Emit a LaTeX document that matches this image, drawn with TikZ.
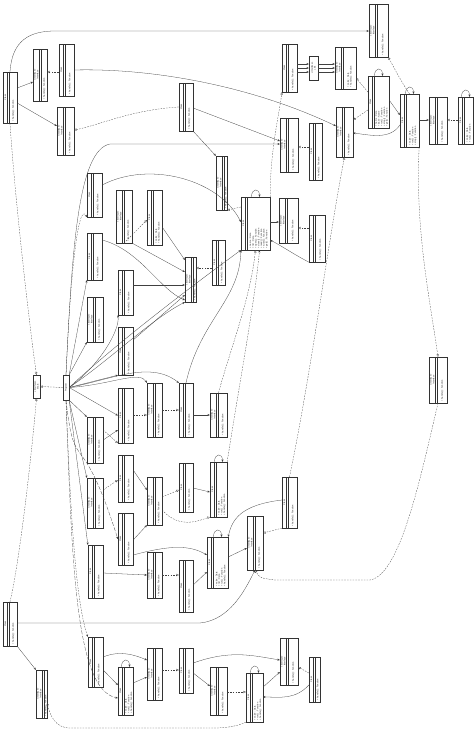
\documentclass[tikz,border=0pt]{standalone}
\usepackage{fontspec}
\setmainfont{Liberation Sans}
\usetikzlibrary{fit,arrows.meta}
\tikzset{
  umlframe/.style={draw=black!80, line width=0.3pt, inner sep=0pt},
  umltxt/.style={font=\fontsize{2.3}{2.7}\selectfont, inner sep=0pt, rotate=90, text=black!85},
  conn/.style={line width=0.28pt, draw=black!75},
  dep/.style={conn, -{Stealth[length=2.4pt,width=2pt]}},
  real/.style={conn, dash pattern=on 1.6pt off 1.2pt, -{Triangle[open,length=2.4pt,width=2.4pt]}},
  ddep/.style={conn, dash pattern=on 1.6pt off 1.2pt, -{Stealth[length=2.4pt,width=2pt]}},
  ldash/.style={conn, dash pattern=on 4pt off 1.5pt, -{Stealth[length=2.4pt,width=2pt]}},
}
\newcommand\umlbox[8]{%
  \coordinate (#1-a) at (#2,-#3);
  \coordinate (#1-b) at (#4,-#5);
  \node[umlframe, fit=(#1-a)(#1-b)] (#1) {};
  \draw[line width=0.25pt, black!80] ({#2+#6},-#3) -- ({#2+#6},-#5) ({#2+#6+2},-#3) -- ({#2+#6+2},-#5);
  \node[umltxt, align=center] (#1-t) at ({#2+#6/2},{-(#3+#5)/2}) {#7};
  \node[umltxt, align=left, anchor=west] (#1-m) at ({(#2+#6+2+#4)/2},{-#5+1.5}) {#8};
}
\newcommand\umlcls[6]{\umlbox{#1}{#2}{#3}{#4}{#5}{4.5}{Class}{#6}}
\newcommand\umlint[6]{\umlbox{#1}{#2}{#3}{#4}{#5}{6.5}{«interface»\\Interface}{#6}}
\newcommand\umlloop[1]{\draw[dep] ([xshift=-4pt]#1.north) .. controls +(0,9) and +(0,9) .. ([xshift=4pt]#1.north);}
\def\fn{+ handle() : Function}
\begin{document}
\begin{tikzpicture}[x=1pt,y=1pt]
\useasboundingbox (0,0) rectangle (474,-732);
\fill[white] (0,0) rectangle (474,-732);
% ---------- boxes ----------
\umlcls{A}{3}{72}{17}{123}{\fn}
\umlint{B}{33}{49}{47}{101}{\fn}
\umlcls{C}{59}{44}{74}{96}{\fn}
\umlint{D}{57}{107}{74}{155}{\fn}
\umlcls{J}{179}{83}{193}{131}{\fn}
\umlcls{G}{282}{44}{297}{92}{\fn}
\node[umlframe, minimum width=9pt, minimum height=24pt] (H) at (313.5,-68) {};
\node[umltxt, align=center] (H-t) at (H) {«interface»\\Link};
\umlint{I}{335}{47}{356}{89}{+ value : Data\\\fn}
\umlint{E}{369}{4}{388}{57}{\fn}
\umlcls{N}{368}{76}{389}{128}{+ name : Data\\+ base : Name\\+ run() : Function\\+ stop() : Function\\+ get() : Function}
\umlcls{O}{400}{94}{419}{147}{+ value : Data\\+ run() : Function\\+ stop() : Function}
\umlint{P}{429}{97}{447}{144}{\fn}
\umlcls{Q}{458}{97}{473}{144}{+ value : Data\\+ run() : Function}
\umlint{K}{280}{118}{298}{172}{\fn}
\umlcls{L}{309}{123}{322}{180}{\fn}
\umlint{F}{336}{107}{353}{157}{\fn}
\umlint{M}{216}{156}{227}{210}{\fn}
\umlcls{BIG}{241}{197}{270}{250}{+ name : Data\\+ list : Data\\+ open() : Function\\+ close() : Function\\+ read() : Function\\+ write() : Function\\+ get() : Function}
\umlint{KK}{279}{198}{298}{243}{\fn}
\umlcls{LL}{309}{215}{325}{262}{\fn}
\umlint{SA}{185}{257}{196}{302}{\fn}
\umlcls{SB}{212}{240}{225}{285}{\fn}
\umlcls{Y1}{87}{173}{102}{217}{\fn}
\umlcls{Y2}{87}{233}{102}{280}{\fn}
\umlint{Y3}{87}{297}{103}{342}{\fn}
\umlint{Y4}{87}{417}{103}{463}{\fn}
\umlint{Y5}{87}{478}{103}{528}{\fn}
\umlcls{Y6}{88}{545}{103}{598}{\fn}
\umlcls{Y7}{88}{637}{103}{687}{\fn}
\umlint{Z1}{116}{190}{132}{243}{\fn}
\umlcls{Z2}{118}{270}{133}{315}{\fn}
\umlcls{Z3}{118}{327}{133}{375}{\fn}
\umlcls{Z4}{118}{388}{133}{443}{\fn}
\umlcls{Z5}{118}{455}{133}{502}{\fn}
\umlcls{Z6}{118}{513}{133}{565}{\fn}
\umlcls{Z7}{118}{667}{133}{715}{+ value : Data\\+ run() : Function\\\fn}
\umlcls{AA1}{147}{190}{162}{245}{+ value : Data\\\fn}
\umlint{AA2}{147}{383}{162}{437}{\fn}
\umlint{AA3}{147}{477}{162}{525}{\fn}
\umlint{AA4}{147}{552}{162}{598}{\fn}
\umlint{AA5}{147}{648}{162}{700}{\fn}
\umlcls{BB1}{179}{383}{193}{437}{\fn}
\umlint{BB2}{210}{393}{227}{437}{\fn}
\umlcls{BB3}{179}{463}{193}{512}{\fn}
\umlcls{BB4}{210}{462}{227}{517}{+ value : Data\\+ run() : Function\\\fn}
\umlcls{CC}{207}{537}{228}{588}{+ value : Data\\+ list : Data\\+ run() : Function\\\fn}
\umlint{T}{247}{516}{263}{570}{\fn}
\umlcls{R}{282}{477}{297}{528}{\fn}
\umlcls{BB5}{179}{560}{193}{612}{\fn}
\umlcls{BB6}{179}{648}{193}{693}{\fn}
\umlint{BB7}{210}{667}{227}{715}{\fn}
\umlcls{BB8}{246}{673}{263}{722}{+ value : Data\\+ run() : Function\\\fn}
\umlint{BB9}{280}{638}{298}{685}{\fn}
\umlcls{BB10}{309}{657}{320}{702}{\fn}
\umlint{S}{429}{357}{447}{403}{\fn}
\umlcls{X}{3}{602}{17}{646}{\fn}
\umlint{U}{36}{670}{47}{718}{\fn}
\node[umlframe, minimum width=7pt, minimum height=23pt] (W) at (36.5,-386.5) {};
\node[umltxt, align=center] (W-t) at (W) {«interface»\\Main};
\node[umlframe, minimum width=6pt, minimum height=25pt] (HUB) at (66,-387.5) {};
\node[umltxt, align=center] (HUB-t) at (HUB) {Program};
% ---------- self loops ----------
\umlloop{N}\umlloop{O}\umlloop{Q}\umlloop{BIG}\umlloop{BB4}\umlloop{CC}\umlloop{Z7}\umlloop{BB8}
% ---------- connectors: top ----------
\draw[dep] (A.north) .. controls (12,-40) and (30,-31) .. (55,-31) -- (E.west |- 0,-31);
\draw[dep] (A.east |- 0,-88) -- (B.west |- 0,-82);
\draw[real] (C.west |- 0,-72) -- (B.east |- 0,-72);
\draw[dep] (A.east |- 0,-103) -- (D.west |- 0,-126);
\draw[dep] (C.east |- 0,-70) .. controls (150,-68) and (250,-85) .. (F.west |- 0,-126);
\draw[real] (J.west |- 0,-107) .. controls (130,-110) and (100,-125) .. (D.east |- 0,-130);
\draw[dep] (J.east |- 0,-108) -- (K.west |- 0,-141);
\draw[dep] (J.south east) -- (M.north west);
\draw[dep] (HUB.north) .. controls (72,-250) and (78,-150) .. (110,-144) -- (K.west |- 0,-144);
\draw[dep] (G.east |- 0,-64) -- (H.west |- 0,-64);
\draw[dep] (G.east |- 0,-68) -- (H.west |- 0,-68);
\draw[dep] (G.east |- 0,-72) -- (H.west |- 0,-72);
\draw[dep] (H.east |- 0,-64) -- (I.west |- 0,-64);
\draw[dep] (H.east |- 0,-68) -- (I.west |- 0,-68);
\draw[dep] (H.east |- 0,-72) -- (I.west |- 0,-72);
\draw[real] (L.west |- 0,-147) -- (K.east |- 0,-147);
\draw[real] (BIG.north east) .. controls (270,-150) and (280,-110) .. (G.south west);
\draw[dep] (N.east |- 0,-100) -- (O.west |- 0,-115);
\draw[dep] (O.east |- 0,-120) -- (P.west |- 0,-120);
\draw[real] (Q.west |- 0,-120) -- (P.east |- 0,-120);
\draw[real] (N.west |- 0,-110) -- (F.east |- 0,-120);
\draw[real] (N.west |- 0,-92) -- (I.east |- 0,-78);
\draw[real] (O.north) .. controls (400,-80) and (390,-60) .. (E.south east);
\draw[dep] (O.west |- 0,-125) .. controls (390,-140) and (370,-135) .. (F.east |- 0,-133);
\draw[real] (R.north) .. controls (310,-380) and (330,-230) .. (F.south);
\draw[real] (O.south east) .. controls (415,-230) and (430,-300) .. (S.north);
\draw[real] (S.south) .. controls (420,-480) and (400,-575) .. (370,-580) -- (275,-580) .. controls (260,-578) .. (T.south);
% ---------- connectors: middle ----------
\draw[dep] (BIG.east |- 0,-222) -- (KK.west |- 0,-222);
\draw[real] (LL.west |- 0,-228) -- (KK.east |- 0,-228);
\draw[dep] (LL.south west) .. controls (295,-255) and (280,-245) .. (BIG.east |- 0,-240);
\draw[real] (BIG.west |- 0,-207) -- (M.south east);
\draw[dep] (AA1.east |- 0,-227) -- (SA.west |- 0,-260);
\draw[real] (SB.west |- 0,-268) -- (SA.east |- 0,-268);
\draw[dep] (Y1.east |- 0,-185) .. controls (150,-160) and (220,-180) .. (BIG.west |- 0,-222);
\draw[dep] (Z2.east |- 0,-285) -- (SA.west |- 0,-285);
\draw[dep] (Z3.east |- 0,-340) -- (SA.west |- 0,-295);
\draw[dep] (Z1.south east) -- (SA.west |- 0,-272);
\draw[dep] (Y2.east |- 0,-240) .. controls (140,-250) and (160,-290) .. (SA.west |- 0,-300);
\draw[real] (Z1.south) -- (AA1.west |- 0,-220);
\draw[dep] (BB1.north) .. controls (200,-320) and (240,-300) .. (BIG.south west);
\draw[real] (BB2.north) .. controls (230,-350) and (250,-300) .. (BIG.south);
\draw[ddep] (BB4.north east) .. controls (240,-380) and (255,-300) .. ([xshift=4pt]BIG.south);
% ---------- hub ----------
\draw[real] (HUB.west) -- (W.east);
\draw[real] (A.south) .. controls (15,-200) and (30,-330) .. (W.north);
\draw[real] (X.north) .. controls (20,-560) and (32,-450) .. (W.south);
\draw[ddep] (HUB.north) .. controls (70,-280) and (78,-200) .. (Y1.south west);
\draw[dep] (HUB.north east) -- (Y2.south west);
\draw[dep] (HUB.north east) -- (Y3.south west);
\draw[dep] (HUB.east) -- (Z3.south west);
\draw[dep] (HUB.east) .. controls (100,-365) and (120,-330) .. (Z2.south west);
\draw[dep] (HUB.east) -- (Z4.west);
\draw[dep] (HUB.east) .. controls (110,-385) and (140,-370) .. (AA2.north west);
\draw[dep] (HUB.east) .. controls (110,-380) and (150,-360) .. (BB1.north west);
\draw[dep] (HUB.east) .. controls (110,-360) and (150,-320) .. (SA.south west);
\draw[dep] (HUB.east) .. controls (120,-340) and (200,-280) .. (BIG.south west);
\draw[dep] (HUB.south east) -- (Y4.north west);
\draw[dep] (HUB.south east) -- (Y5.north west);
\draw[dep] (HUB.south east) -- (Y6.north west);
\draw[ddep] (HUB.south) .. controls (70,-500) and (75,-600) .. (Y7.north west);
\draw[ldash] (HUB.south) .. controls (72,-560) and (75,-690) .. (Z7.west |- 0,-698);
\draw[ldash] (HUB.south) .. controls (75,-480) and (80,-420) .. (Z6.west);
% ---------- connectors: lower ----------
\draw[dep] (Y4.east |- 0,-440) -- (Z4.west |- 0,-430);
\draw[real] (Y4.east |- 0,-430) -- (Z4.south west);
\draw[real] (Y5.east |- 0,-490) -- (Z5.west |- 0,-480);
\draw[real] (Z4.east |- 0,-415) -- (AA2.west |- 0,-415);
\draw[real] (AA2.east |- 0,-410) -- (BB1.west |- 0,-410);
\draw[dep] (BB1.east |- 0,-415) -- (BB2.west |- 0,-415);
\draw[dep] (Z5.east |- 0,-470) -- (AA3.west |- 0,-490);
\draw[dep] (Z6.east |- 0,-540) -- (AA3.south west);
\draw[real] (AA3.east |- 0,-497) -- (BB3.west |- 0,-490);
\draw[dep] (BB3.east |- 0,-488) -- (BB4.west |- 0,-492);
\draw[real] (AA3.east |- 0,-510) .. controls (180,-530) and (200,-520) .. (BB4.south west);
\draw[dep] (Y6.east |- 0,-573) -- (AA4.west |- 0,-575);
\draw[real] (AA4.east |- 0,-575) -- (BB5.west |- 0,-575);
\draw[dep] (BB5.east |- 0,-585) -- (CC.west |- 0,-572);
\draw[dep] (Z6.east |- 0,-555) .. controls (170,-545) and (190,-545) .. (CC.west |- 0,-555);
\draw[dep] (CC.east |- 0,-557) -- (T.west |- 0,-548);
\draw[dep] (R.west |- 0,-500) .. controls (240,-505) and (232,-520) .. (CC.north east);
\draw[real] (R.south west) -- (T.east |- 0,-533);
\draw[dep] (X.east |- 0,-623) -- (200,-623) .. controls (230,-620) and (245,-590) .. (T.south);
\draw[dep] (X.south east) -- (U.north west);
\draw[real] (BB8.south west) .. controls (240,-725) and (230,-728) .. (213,-728) -- (70,-728) .. controls (55,-728) and (50,-715) .. (U.east |- 0,-703);
\draw[dep] (BB6.east |- 0,-663) .. controls (230,-650) and (250,-655) .. (BB9.west |- 0,-660);
\draw[dep] (BB6.east |- 0,-673) -- (BB7.west |- 0,-686);
\draw[real] (BB7.east |- 0,-692) -- (BB8.west |- 0,-692);
\draw[dep] (BB8.east |- 0,-687) -- (BB9.west |- 0,-672);
\draw[dep] (BB10.west |- 0,-685) .. controls (295,-700) and (280,-697) .. (BB8.east |- 0,-697);
\draw[real] (BB10.west |- 0,-673) -- (BB9.east |- 0,-667);
\draw[real] (AA5.east |- 0,-670) -- (BB6.west |- 0,-670);
\draw[dep] (Y7.east |- 0,-657) .. controls (120,-650) and (135,-655) .. (AA5.west |- 0,-660);
\draw[dep] (Y7.east |- 0,-670) -- (Z7.west |- 0,-685);
\draw[dep] (Z7.east |- 0,-683) -- (AA5.west |- 0,-677);
\end{tikzpicture}
\end{document}
